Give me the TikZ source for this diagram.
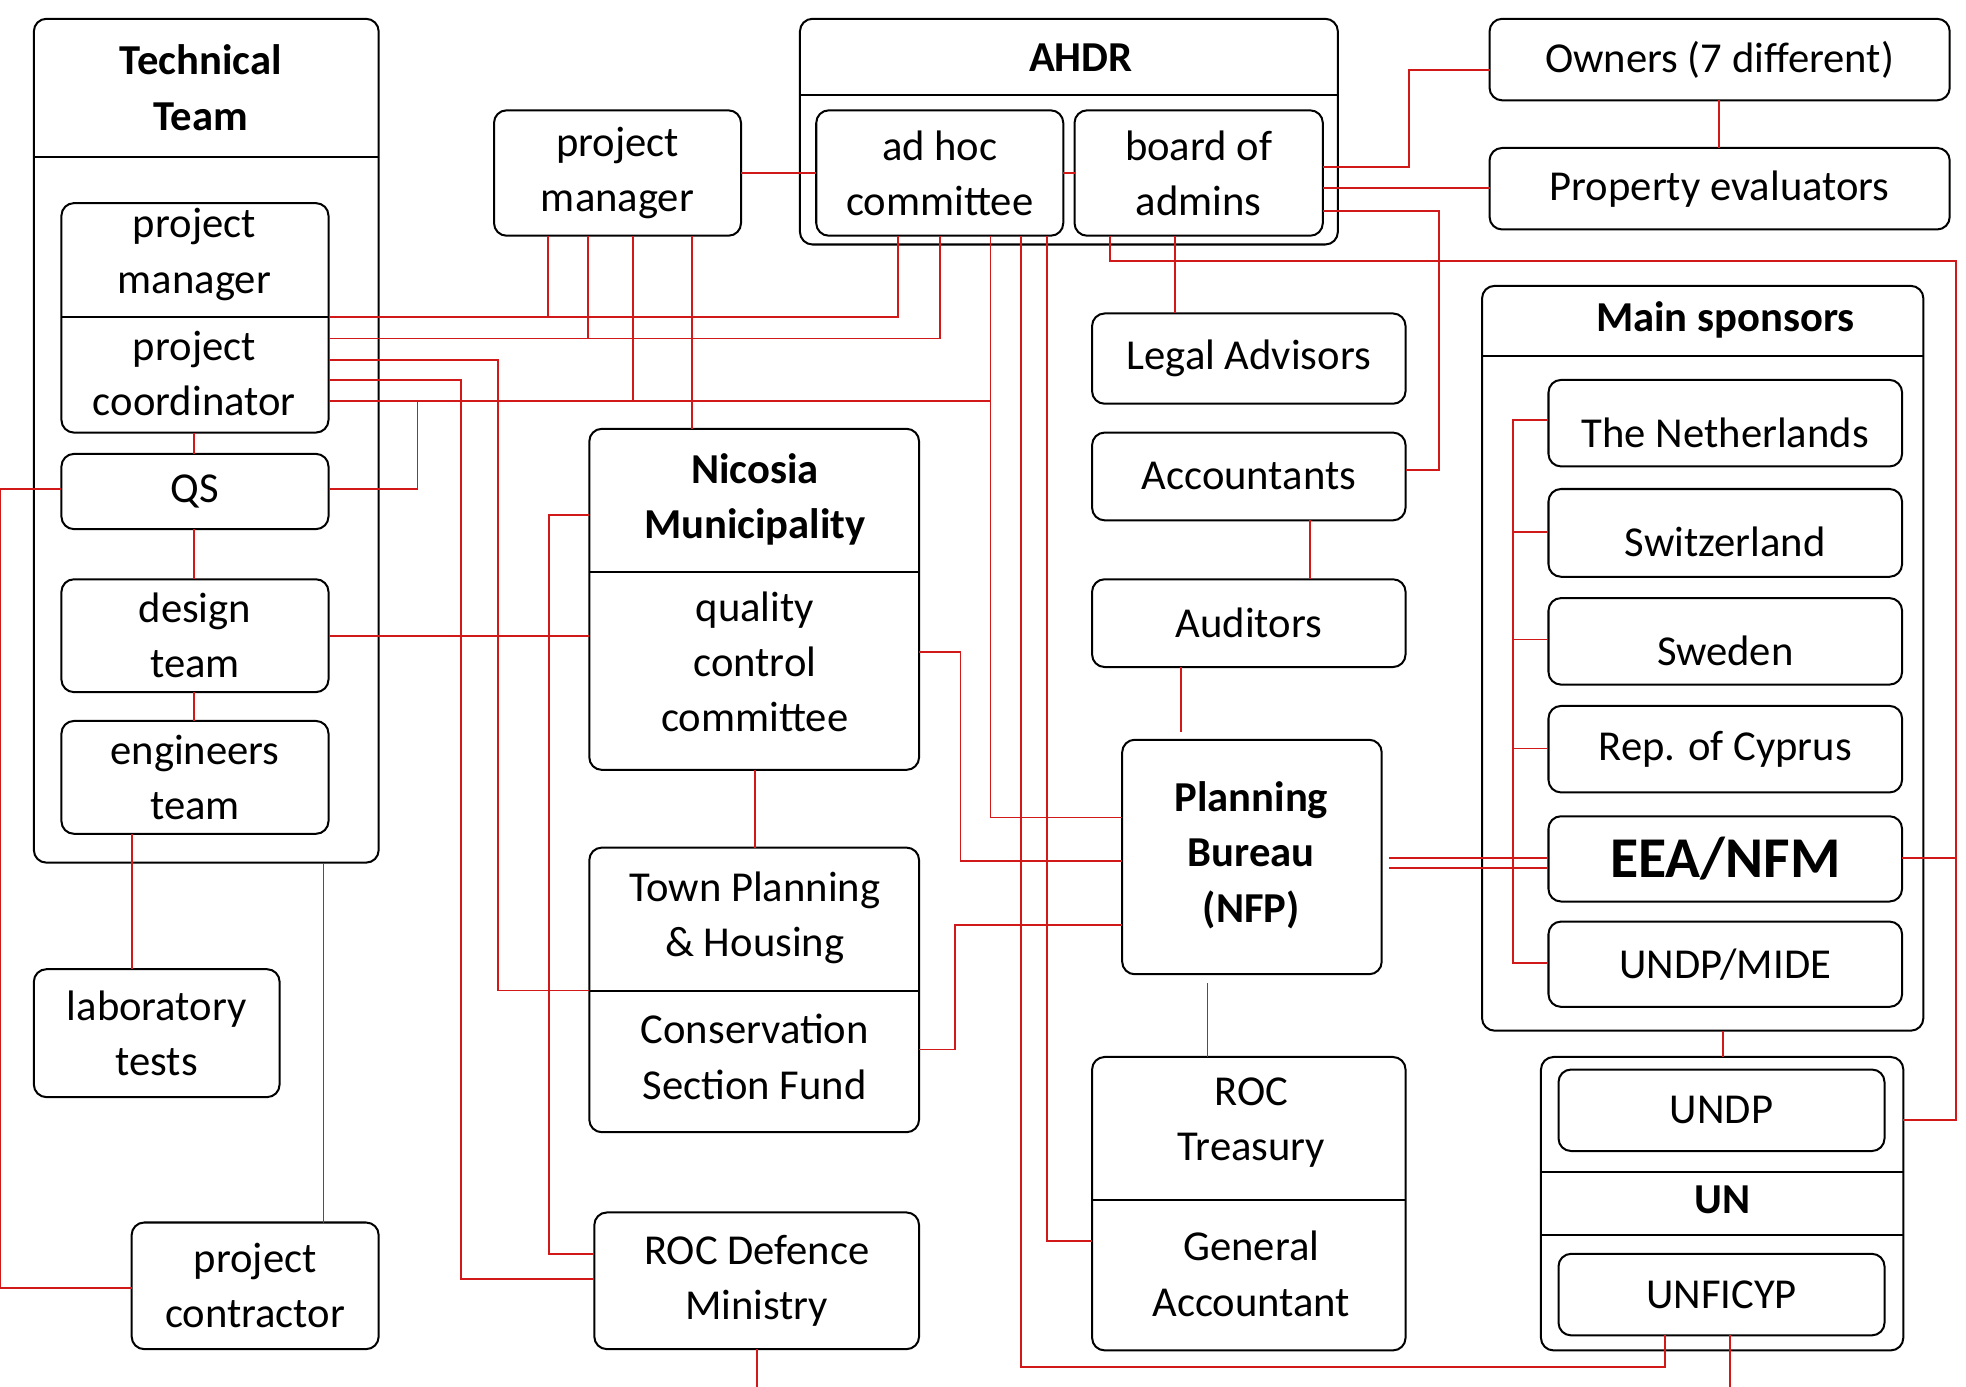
\documentclass[tikz,border=0pt]{standalone}
\usepackage{fontspec}
\setmainfont{Carlito}
\begin{document}
\begin{tikzpicture}[x=1pt,y=-1pt,
  bx/.style={draw=black,line width=1.6pt,rounded corners=10pt,inner sep=0pt},
  tx/.style={align=center,font=\fontsize{34}{44}\selectfont,inner sep=0pt},
  bt/.style={tx,font=\fontsize{34}{44}\selectfont\bfseries},
  rl/.style={draw=red!80!black!90,line width=1.5pt},
  dv/.style={line width=1.6pt}]
\useasboundingbox (0,0) rectangle (1568,1106);
\newcommand{\bx}[5]{\node[bx,minimum width={#4-#2},minimum height={#5-#3}] (#1) at ({(#2+#4)/2},{(#3+#5)/2}) {};}
% boxes
\bx{tt}{27}{15}{302}{688}
\draw[dv] (27,125)--(302,125);
\node[bt] at (160,70) {Technical\\Team};
\bx{pmpc}{49}{162}{262}{345}
\draw[dv] (49,253)--(262,253);
\node[tx] at (155,203) {project\\manager};
\node[tx] at (155,298) {project\\coordinator};
\bx{qs}{49}{362}{262}{422}\node[tx] at (qs) {QS};
\bx{dt}{49}{462}{262}{552}\node[tx] at (dt) {design\\team};
\bx{et}{49}{575}{262}{665}\node[tx] at (et) {engineers\\team};
\bx{lab}{27}{773}{223}{875}\node[tx] at (lab) {laboratory\\tests};
\bx{pcon}{105}{975}{302}{1076}\node[tx] at (pcon) {project\\contractor};
\bx{pm}{394}{88}{591}{188}\node[tx] at (pm) {project\\manager};
\bx{ahdr}{638}{15}{1067}{195}
\draw[dv] (638,76)--(1067,76);
\node[bt] at (862,46) {AHDR};
\bx{ahc}{651}{88}{848}{188}\node[tx] at (ahc) {ad hoc\\committee};
\bx{boa}{857}{88}{1055}{188}\node[tx] at (boa) {board of\\admins};
\bx{own}{1188}{15}{1555}{80}\node[tx] at (own) {Owners (7 different)};
\bx{pe}{1188}{118}{1555}{183}\node[tx] at (pe) {Property evaluators};
\bx{la}{871}{250}{1121}{322}\node[tx] at (la) {Legal Advisors};
\bx{acc}{871}{345}{1121}{415}\node[tx] at (acc) {Accountants};
\bx{aud}{871}{462}{1121}{532}\node[tx] at (aud) {Auditors};
\bx{nm}{470}{342}{733}{614}
\draw[dv] (470,456)--(733,456);
\node[bt] at (602,398) {Nicosia\\Municipality};
\node[tx] at (602,528) {quality\\control\\committee};
\bx{tp}{470}{676}{733}{903}
\draw[dv] (470,790)--(733,790);
\node[tx] at (602,732) {Town Planning\\\& Housing};
\node[tx] at (602,843) {Conservation\\Section Fund};
\bx{rdm}{474}{967}{733}{1076}\node[tx] at (rdm) {ROC Defence\\Ministry};
\bx{pb}{895}{590}{1102}{777}\node[bt] at (998,682) {Planning\\Bureau\\(NFP)};
\bx{rt}{871}{843}{1121}{1077}
\draw[dv] (871,957)--(1121,957);
\node[tx] at (998,895) {ROC\\Treasury};
\node[tx] at (998,1016) {General\\Accountant};
\bx{ms}{1182}{228}{1534}{822}
\draw[dv] (1182,284)--(1534,284);
\node[bt] at (1376,255) {Main sponsors};
\bx{nl}{1235}{303}{1517}{372}\node[tx] at (1376,345) {The Netherlands};
\bx{ch}{1235}{390}{1517}{460}\node[tx] at (1376,432) {Switzerland};
\bx{se}{1235}{477}{1517}{546}\node[tx] at (1376,519) {Sweden};
\bx{cy}{1235}{563}{1517}{632}\node[tx] at (cy) {Rep. of Cyprus};
\bx{eea}{1235}{651}{1517}{719}\node[tx,font=\fontsize{46}{50}\selectfont\bfseries] at (eea) {EEA/NFM};
\bx{mide}{1235}{735}{1517}{803}\node[tx] at (mide) {UNDP/MIDE};
\bx{un}{1229}{843}{1518}{1077}
\draw[dv] (1229,935)--(1518,935);
\draw[dv] (1229,985)--(1518,985);
\node[bt] at (1374,957) {UN};
\bx{undp}{1243}{853}{1503}{918}\node[tx] at (undp) {UNDP};
\bx{unf}{1243}{1000}{1503}{1065}\node[tx] at (unf) {UNFICYP};
% red connectors
\begin{scope}[rl]
\draw (262,253)--(716,253)--(716,188);
\draw (262,270)--(750,270)--(750,188);
\draw (437,188)--(437,253);
\draw (469,188)--(469,270);
\draw (505,188)--(505,320);
\draw (552,188)--(552,342);
\draw (262,287)--(397,287)--(397,790)--(470,790);
\draw (262,303)--(368,303)--(368,1020)--(474,1020);
\draw (262,320)--(790,320);
\draw (790,188)--(790,652)--(895,652);
\draw (262,390)--(333,390)--(333,320);
\draw (49,390)--(0,390)--(0,1027)--(105,1027);
\draw (155,345)--(155,362);
\draw (155,422)--(155,462);
\draw (155,552)--(155,575);
\draw (105,665)--(105,773);
\draw (262,507)--(470,507);
\draw (258,688)--(258,975);
\draw (470,411)--(438,411)--(438,1000)--(474,1000);
\draw (733,520)--(766,520)--(766,687)--(895,687);
\draw (733,837)--(762,837)--(762,738)--(895,738);
\draw (602,614)--(602,676);
\draw (604,1076)--(604,1106);
\draw (1380,1065)--(1380,1106);
\draw (591,138)--(651,138);
\draw (848,138)--(857,138);
\draw (814,188)--(814,1090)--(1328,1090)--(1328,1065);
\draw (835,188)--(835,990)--(871,990);
\draw (937,188)--(937,250);
\draw (885,188)--(885,208)--(1560,208)--(1560,893)--(1518,893);
\draw (1517,684)--(1560,684);
\draw (1055,133)--(1124,133)--(1124,56)--(1188,56);
\draw (1055,150)--(1188,150);
\draw (1055,168)--(1148,168)--(1148,375)--(1121,375);
\draw (1371,80)--(1371,118);
\draw (1045,415)--(1045,462);
\draw (942,532)--(942,584);
\draw (963,784)--(963,843);
\draw (1108,684)--(1235,684);
\draw (1108,692)--(1235,692);
\draw (1235,335)--(1207,335)--(1207,768)--(1235,768);
\foreach \y in {424,510,597,684} \draw (1207,\y)--(1235,\y);
\draw (1374,822)--(1374,843);
\end{scope}
\end{tikzpicture}
\end{document}
